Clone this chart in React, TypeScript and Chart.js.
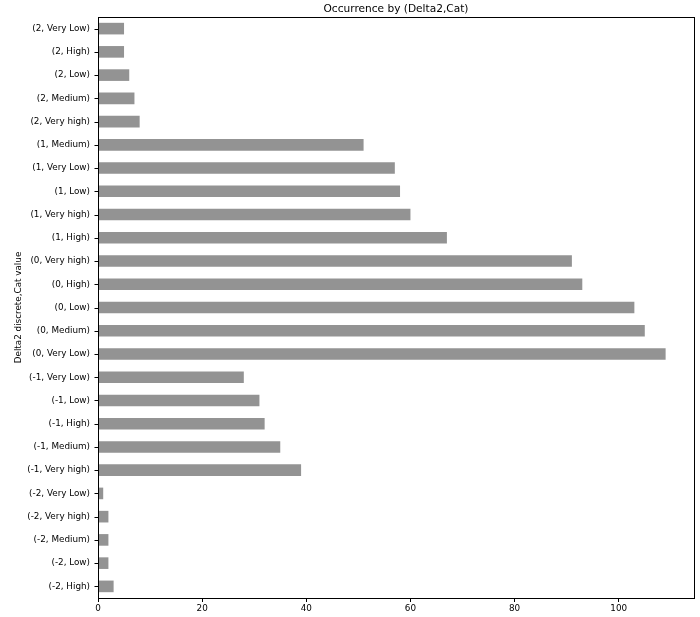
import { useEffect, useRef } from "react";
import { Chart, registerables } from "chart.js";

Chart.register(...registerables);

// categories, top to bottom as drawn
const categories: string[] = [
  "(2, Very Low)",
  "(2, High)",
  "(2, Low)",
  "(2, Medium)",
  "(2, Very high)",
  "(1, Medium)",
  "(1, Very Low)",
  "(1, Low)",
  "(1, Very high)",
  "(1, High)",
  "(0, Very high)",
  "(0, High)",
  "(0, Low)",
  "(0, Medium)",
  "(0, Very Low)",
  "(-1, Very Low)",
  "(-1, Low)",
  "(-1, High)",
  "(-1, Medium)",
  "(-1, Very high)",
  "(-2, Very Low)",
  "(-2, Very high)",
  "(-2, Medium)",
  "(-2, Low)",
  "(-2, High)",
];

const counts: number[] = [
  5, 5, 6, 7, 8,
  51, 57, 58, 60, 67,
  91, 93, 103, 105, 109,
  28, 31, 32, 35, 39,
  1, 2, 2, 2, 3,
];

const xTicks: number[] = [0, 20, 40, 60, 80, 100];

const TITLE = "Occurrence by (Delta2,Cat)";
const FONT = "'DejaVu Sans', sans-serif";

// frame on all four sides, y tick marks, and a title centred over the plot area (matplotlib style)
const framePlugin = {
  id: "frame",
  afterDraw(chart: Chart) {
    const { ctx, chartArea } = chart;
    const yScale: any = chart.scales.y;
    ctx.save();
    ctx.strokeStyle = "#000";
    ctx.lineWidth = 1;
    ctx.strokeRect(
      Math.round(chartArea.left) + 0.5,
      Math.round(chartArea.top) + 0.5,
      Math.round(chartArea.right - chartArea.left),
      Math.round(chartArea.bottom - chartArea.top)
    );
    ctx.beginPath();
    yScale.ticks.forEach((_t: any, i: number) => {
      const y = Math.round(yScale.getPixelForTick(i)) + 0.5;
      ctx.moveTo(Math.round(chartArea.left) - 3.5, y);
      ctx.lineTo(Math.round(chartArea.left), y);
    });
    ctx.stroke();
    ctx.fillStyle = "#000";
    ctx.font = `10.6px ${FONT}`;
    ctx.textAlign = "center";
    ctx.textBaseline = "bottom";
    ctx.fillText(TITLE, (chartArea.left + chartArea.right) / 2, chartArea.top - 2);
    ctx.restore();
  },
};

export default function App() {
  const canvasRef = useRef<HTMLCanvasElement>(null);

  useEffect(() => {
    document.body.style.margin = "0";
    if (!canvasRef.current) return;

    const maxVal = Math.max(...counts) * 1.05;

    const chart = new Chart(canvasRef.current, {
      type: "bar",
      data: {
        labels: categories,
        datasets: [
          {
            label: "Occurrence",
            data: counts,
            backgroundColor: "#939393",
            borderWidth: 0,
            barPercentage: 0.5,
            categoryPercentage: 1,
          },
        ],
      },
      options: {
        indexAxis: "y",
        responsive: false,
        animation: false,
        devicePixelRatio: 1,
        layout: { padding: { left: 0, right: 6, top: 17, bottom: 0 } },
        plugins: {
          legend: { display: false },
          tooltip: { enabled: false },
          title: { display: false },
        },
        scales: {
          x: {
            type: "linear",
            min: 0,
            max: maxVal,
            afterBuildTicks: (scale: any) => {
              scale.ticks = xTicks.map((v) => ({ value: v }));
            },
            afterFit: (scale: any) => {
              scale.height = 19;
            },
            ticks: {
              color: "#000",
              font: { family: FONT, size: 8.8 },
              padding: 1,
              maxRotation: 0,
            },
            grid: {
              drawOnChartArea: false,
              drawTicks: true,
              tickLength: 4,
              color: "#000",
            },
            border: { display: true, color: "#000" },
          },
          y: {
            type: "category",
            afterFit: (scale: any) => {
              scale.width = 98;
            },
            title: {
              display: true,
              text: "Delta2 discrete,Cat value",
              color: "#000",
              font: { family: FONT, size: 8.8 },
              padding: { top: 13.5, bottom: 4 },
            },
            ticks: {
              color: "#000",
              font: { family: FONT, size: 8.8 },
              padding: 8,
              autoSkip: false,
            },
            grid: {
              offset: false,
              drawOnChartArea: false,
              drawTicks: false,
              color: "#000",
            },
            border: { display: true, color: "#000" },
          },
        },
      },
      plugins: [framePlugin],
    });

    return () => chart.destroy();
  }, []);

  return (
    <div style={{ width: 700, height: 617, background: "#fff" }}>
      <canvas ref={canvasRef} width={700} height={617} style={{ display: "block" }} />
    </div>
  );
}
